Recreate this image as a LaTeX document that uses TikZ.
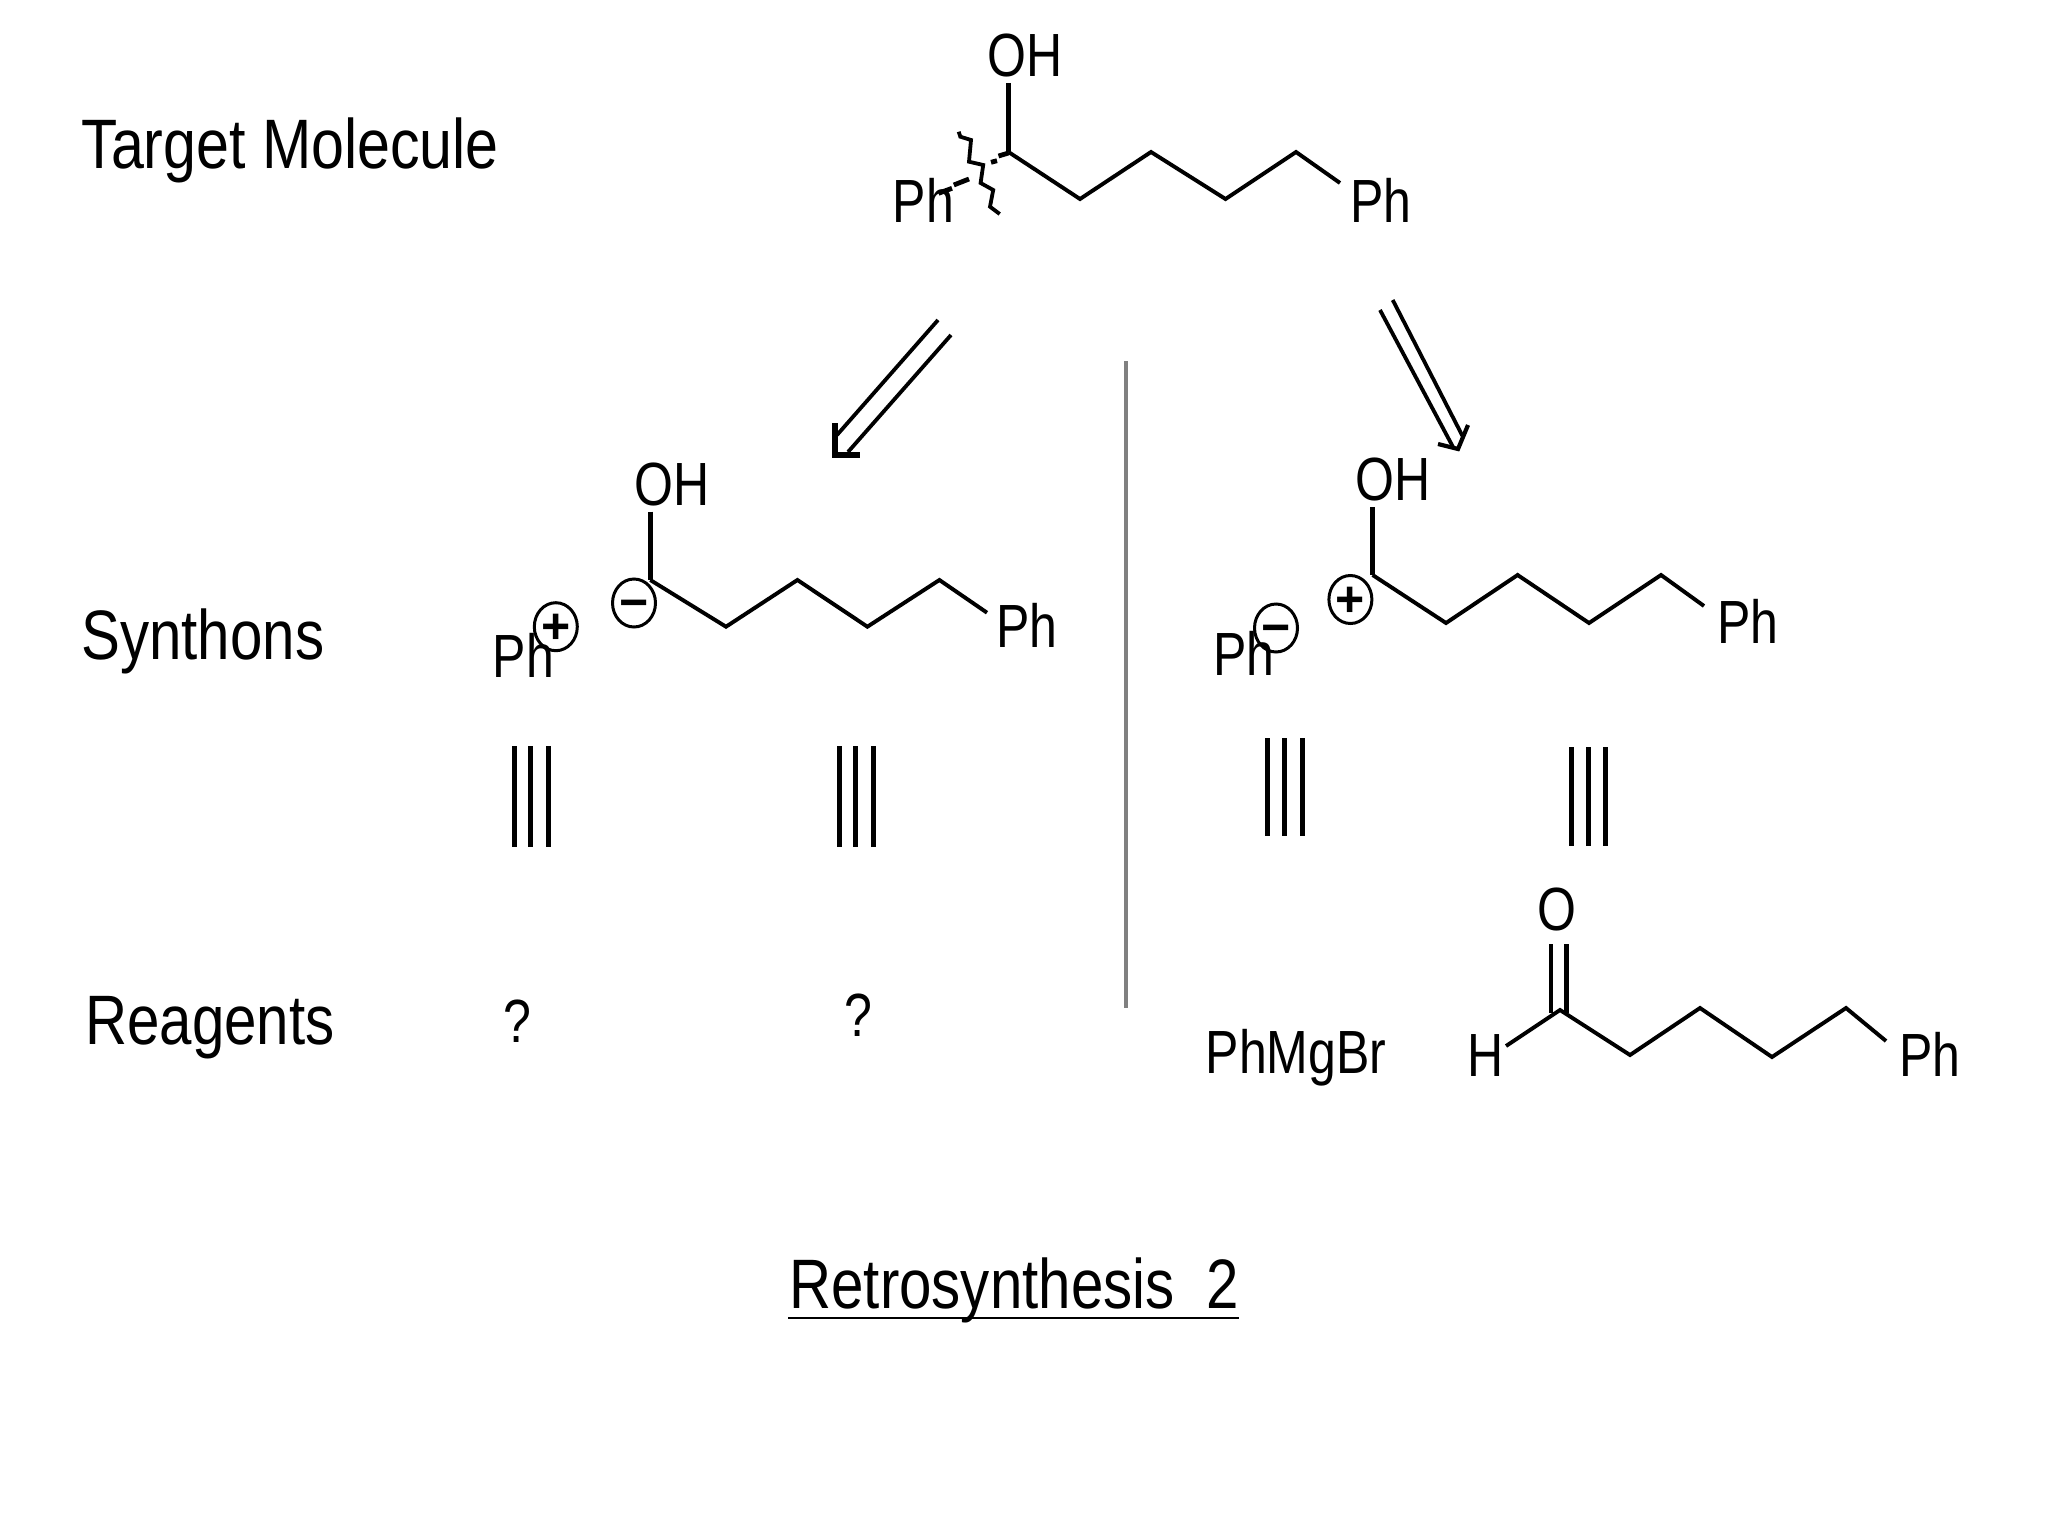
\documentclass[tikz,border=0pt]{standalone}
\usepackage{fontspec}
\usetikzlibrary{shapes.geometric}
\newfontfamily\labfont[FakeStretch=0.832]{Liberation Sans}
\newfontfamily\targetfont[FakeStretch=0.845]{Liberation Sans}
\newfontfamily\chemfont[FakeStretch=0.82]{Liberation Sans}
\newfontfamily\signfont{Liberation Sans Bold}
\newcommand{\chargesign}[1]{\makebox[0pt]{\signfont\fontsize{25pt}{25pt}\selectfont\smash{\raisebox{-0.33em}{#1}}}}
\tikzset{
  lab/.style={anchor=base west,inner sep=0pt,font=\labfont\fontsize{35pt}{35pt}\selectfont},
  atom/.style={anchor=base,inner sep=0pt,font=\chemfont\fontsize{30.5pt}{30.5pt}\selectfont},
  bond/.style={line width=1.95pt,line join=miter,line cap=butt},
  heavy/.style={line width=2.4pt},
  equiv/.style={line width=2.5pt},
  retro/.style={line width=1.9pt},
  head/.style={line width=2.6pt,line join=miter},
  charge/.style={ellipse,draw,line width=1.5pt,minimum width=21.5pt,minimum height=24pt,inner sep=0pt},
}
\begin{document}
\begin{tikzpicture}[x=0.5pt,y=-0.5pt]
\useasboundingbox (0,0) rectangle (2048,1536);
\fill[white] (0,0) rectangle (2048,1536);

% Row labels and title
\node[lab,font=\targetfont\fontsize{35pt}{35pt}\selectfont] (target) at (81,168) {Target Molecule};
\node[lab] (synth) at (81,659) {Synthons};
\node[lab] (reag) at (85,1044) {Reagents};
\node[lab] (title) at (789,1308) {Retrosynthesis\ \ 2};
\coordinate (ulL) at (788,1318);
\coordinate (ulR) at (1239,1318);
\draw[line width=1.3pt] (ulL) -- (ulR);

% Target molecule
\node[atom] (tOH) at (1025,77) {OH};
\node[atom] (tPhR) at (1381,222) {Ph};
\node[atom] (tPhL) at (923.5,222) {Ph};
\coordinate (tO) at (1008.5,83);
\coordinate (t0) at (1008.5,152);
\coordinate (t1) at (1080,199);
\coordinate (t2) at (1151,152);
\coordinate (t3) at (1225.5,199);
\coordinate (t4) at (1296,152);
\coordinate (t5) at (1340,183);
\draw[bond,heavy] (tO) -- (t0);
\draw[bond] (t0) -- (t1) -- (t2) -- (t3) -- (t4) -- (t5);
\coordinate (d1a) at (1008.5,153); \coordinate (d1b) at (998.5,156);
\coordinate (d2a) at (997,160.7); \coordinate (d2b) at (991,162.3);
\coordinate (d3a) at (969,179); \coordinate (d3b) at (953.8,185);
\coordinate (d4a) at (952,188.3); \coordinate (d4b) at (938.5,193.3);
\draw[bond,heavy] (d1a) -- (d1b) (d2a) -- (d2b) (d3a) -- (d3b) (d4a) -- (d4b);
\coordinate (w0) at (958.7,131.7); \coordinate (w1) at (960.3,136.7);
\coordinate (w2) at (971,140); \coordinate (w3) at (969,161.7);
\coordinate (w4) at (983.2,165); \coordinate (w5) at (980.6,183);
\coordinate (w6) at (993.2,190); \coordinate (w7) at (990,206.7);
\coordinate (w8) at (999.7,214);
\draw[bond,line width=1.9pt] (w0) -- (w1) -- (w2) -- (w3) -- (w4) -- (w5) -- (w6) -- (w7) -- (w8);

% Retrosynthetic arrows
\coordinate (la1) at (938,320); \coordinate (la2) at (837,435);
\coordinate (lb1) at (951,335); \coordinate (lb2) at (848,452);
\coordinate (lh1) at (835,423); \coordinate (lh2) at (835,455); \coordinate (lh3) at (860,455);
\draw[retro] (la1) -- (la2) (lb1) -- (lb2);
\draw[head] (lh1) -- (lh2) -- (lh3);
\coordinate (ra1) at (1380,310); \coordinate (ra2) at (1453,447);
\coordinate (rb1) at (1392.7,300); \coordinate (rb2) at (1463,437);
\coordinate (rh1) at (1468,425); \coordinate (rh2) at (1458,449); \coordinate (rh3) at (1438,444);
\draw[retro] (ra1) -- (ra2) (rb1) -- (rb2);
\draw[retro,line width=2.1pt] (rh1) -- (rh2) -- (rh3);

% Divider
\coordinate (divT) at (1126,361);
\coordinate (divB) at (1126,1008);
\draw[line width=2pt,draw=black!50] (divT) -- (divB);

% Left synthons
\node[atom] (lOH) at (672,505) {OH};
\node[atom] (lPhR) at (1027,647) {Ph};
\node[atom] (lPhL) at (523.5,677) {Ph};
\coordinate (lO) at (650.3,511.7);
\coordinate (l0) at (650.3,580);
\coordinate (l1) at (726,626.7);
\coordinate (l2) at (797.4,580);
\coordinate (l3) at (867.4,626.7);
\coordinate (l4) at (939.4,580);
\coordinate (l5) at (987,612.7);
\draw[bond,heavy] (lO) -- (l0);
\draw[bond] (l0) -- (l1) -- (l2) -- (l3) -- (l4) -- (l5);
\node[charge] (lminus) at (634,603) {\chargesign{−}};
\node[charge] (lplus) at (555.8,626.7) {\chargesign{+}};

% Right synthons
\node[atom] (rOH) at (1393,500.5) {OH};
\node[atom] (rPhR) at (1748,643) {Ph};
\node[atom] (rPhL) at (1244,675) {Ph};
\coordinate (rO) at (1372.6,507);
\coordinate (r0) at (1372.6,575);
\coordinate (r1) at (1446,623);
\coordinate (r2) at (1517.6,575);
\coordinate (r3) at (1589,623);
\coordinate (r4) at (1661,575);
\coordinate (r5) at (1704,606);
\draw[bond,heavy] (rO) -- (r0);
\draw[bond] (r0) -- (r1) -- (r2) -- (r3) -- (r4) -- (r5);
\node[charge] (rplus) at (1350.4,599.5) {\chargesign{+}};
\node[charge] (rminus) at (1276,628) {\chargesign{−}};

% Equivalence bars
\coordinate (e1aT) at (514.3,746); \coordinate (e1aB) at (514.3,846.7);
\coordinate (e1bT) at (530,746); \coordinate (e1bB) at (530,846.7);
\coordinate (e1cT) at (548.3,746); \coordinate (e1cB) at (548.3,846.7);
\draw[equiv] (e1aT) -- (e1aB) (e1bT) -- (e1bB) (e1cT) -- (e1cB);
\coordinate (e2aT) at (839.7,746); \coordinate (e2aB) at (839.7,846.7);
\coordinate (e2bT) at (855.5,746); \coordinate (e2bB) at (855.5,846.7);
\coordinate (e2cT) at (873.3,746); \coordinate (e2cB) at (873.3,846.7);
\draw[equiv] (e2aT) -- (e2aB) (e2bT) -- (e2bB) (e2cT) -- (e2cB);
\coordinate (e3aT) at (1267,738); \coordinate (e3aB) at (1267,836);
\coordinate (e3bT) at (1284,738); \coordinate (e3bB) at (1284,836);
\coordinate (e3cT) at (1302,738); \coordinate (e3cB) at (1302,836);
\draw[equiv] (e3aT) -- (e3aB) (e3bT) -- (e3bB) (e3cT) -- (e3cB);
\coordinate (e4aT) at (1571,747); \coordinate (e4aB) at (1571,846);
\coordinate (e4bT) at (1588,747); \coordinate (e4bB) at (1588,846);
\coordinate (e4cT) at (1605,747); \coordinate (e4cB) at (1605,846);
\draw[equiv] (e4aT) -- (e4aB) (e4bT) -- (e4bB) (e4cT) -- (e4cB);

% Reagents
\node[atom] (q1) at (517,1042) {?};
\node[atom] (q2) at (858,1036) {?};
\node[atom] (grig) at (1296,1073) {PhMgBr};
\node[atom] (ald) at (1557,930) {O};
\node[atom] (aldH) at (1486,1076.7) {H};
\node[atom] (aldPh) at (1930,1076.7) {Ph};
\coordinate (cL) at (1551,944); \coordinate (cLb) at (1551,1013);
\coordinate (cR) at (1566.5,944); \coordinate (cRb) at (1566.5,1013);
\draw[bond,line width=2.2pt] (cL) -- (cLb) (cR) -- (cRb);
\coordinate (aH) at (1506,1046);
\coordinate (a0) at (1560,1010);
\coordinate (a1) at (1630,1055);
\coordinate (a2) at (1700,1008);
\coordinate (a3) at (1772,1057);
\coordinate (a4) at (1846,1008);
\coordinate (a5) at (1886,1041);
\draw[bond] (aH) -- (a0) -- (a1) -- (a2) -- (a3) -- (a4) -- (a5);
\end{tikzpicture}
\end{document}
